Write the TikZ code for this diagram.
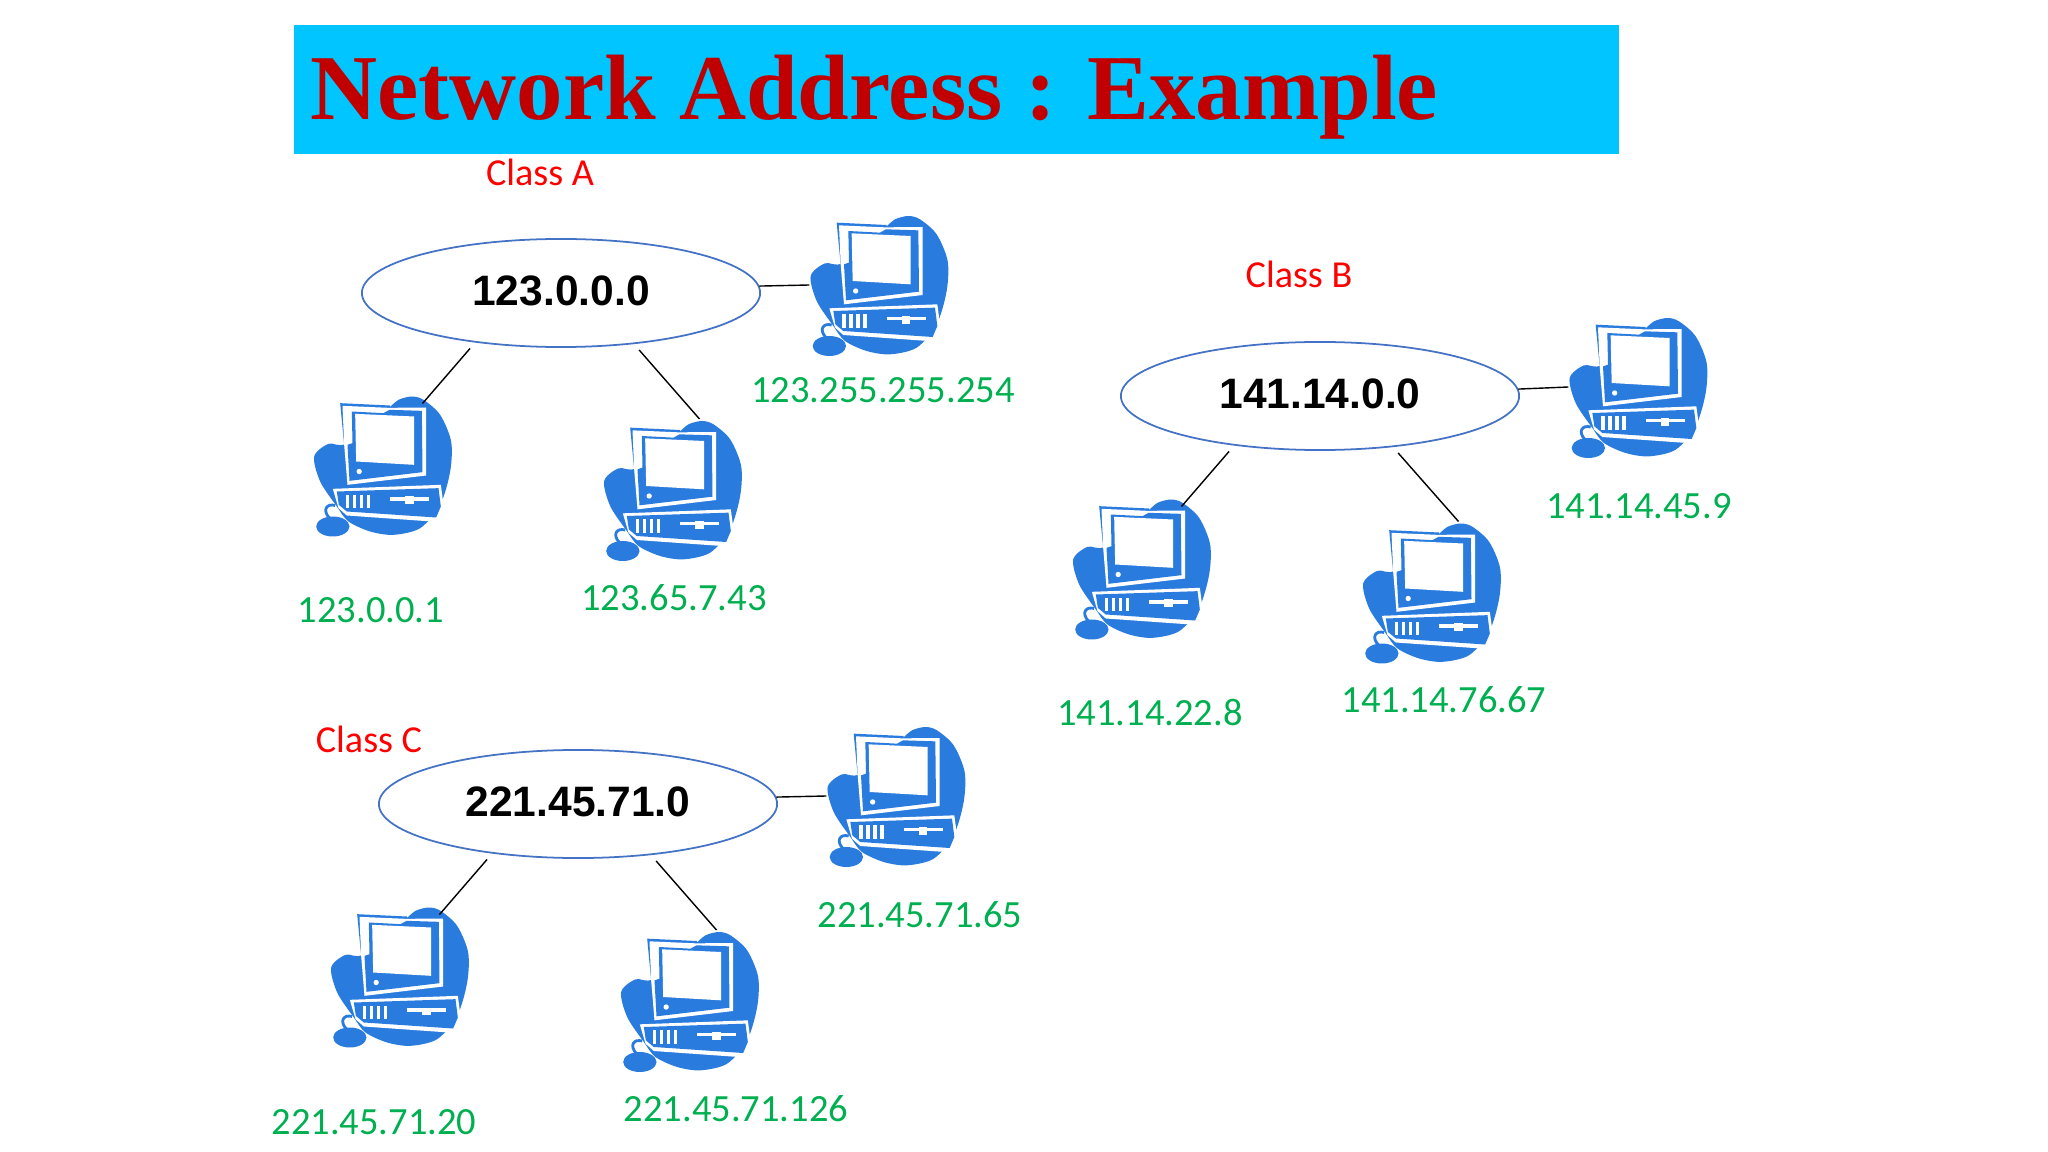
\documentclass[tikz,border=0pt]{standalone}
\usepackage{fontspec}
\usepackage{xcolor}
\usetikzlibrary{shapes.geometric}
\setmainfont{Carlito}
\newfontfamily\titlefont{Liberation Serif}
\newfontfamily\netfont{Liberation Sans}
\definecolor{barcyan}{HTML}{00C5FF}
\definecolor{titlered}{HTML}{C00000}
\definecolor{hostblue}{HTML}{2A7BDE}
\definecolor{netblue}{HTML}{4472C4}
\definecolor{addrgreen}{HTML}{00B050}
\tikzset{
	net/.style = {draw = netblue, line width = 0.5pt, ellipse, minimum width = 3.98cm, minimum height = 1.08cm, inner sep = 0pt, font = \netfont\bfseries\fontsize{12.1}{14}\selectfont},
	classlabel/.style = {red, font = \fontsize{10.85}{13}\selectfont},
	addr/.style = {addrgreen, font = \fontsize{10.95}{13}\selectfont},
	link/.style = {line width = 0.4pt},
	linkgap/.style = {line width = 0.4pt, shorten < = 2.2pt},
	computer/.pic = {
		% 底色
		\fill [hostblue] plot [smooth cycle] coordinates {(190,185) (135,187) (92,225) (110,300) (160,375) (195,420) (260,450) (330,460) (410,440) (470,370) (500,270) (503,180) (470,100) (420,55) (385,45) (345,55) (315,80)};
		% 显示器
		\fill [hostblue] (170,65) -- (320,72) -- (320,90) -- (200,200) -- (182,190) -- cycle;
		\fill [white] (177,73) -- (315,79) -- (428,78) -- (428,282) -- (192,310) -- (182,190) -- cycle;
		\fill [hostblue] (205,90) -- (300,95) -- (318,85) -- (415,88) -- (417,272) -- (198,298) -- (192,190) -- (207,185) -- cycle;
		\fill [white] (215,97) -- (392,105) -- (392,250) -- (218,240) -- cycle;
		\fill [white] (227,270) circle [radius = 8];
		% 主机
		\fill [white] (148,322) -- (472,310) -- (480,370) -- (460,412) -- (445,420) -- (190,402) -- (165,380) -- cycle;
		\fill [hostblue] (160,330) -- (465,320) -- (472,375) -- (458,408) -- (190,390) -- (166,370) -- cycle;
		\foreach \x in {187, 208, 229, 250}
			\fill [white] (\x,340) rectangle ++(10,40);
		\fill [white] (320,347) rectangle (437,358);
		\fill [white] (365,345) rectangle (390,368);
		% 鼠标
		\fill [hostblue] (148,435) ellipse [x radius = 50, y radius = 30];
		\draw [hostblue, line width = 0.8pt] (138,410) .. controls (115,385) and (130,365) .. (155,372);
		% 连接点
		\coordinate (-side) at (88,252);
		\coordinate (-topa) at (417,66);
		\coordinate (-topb) at (378,39);
	}
}

\begin{document}
\begin{tikzpicture}[x = 0.01cm, y = -0.01cm]
	\useasboundingbox (0,0) rectangle (2048,1152);
	% 标题
	\fill [barcyan] (294,25) rectangle (1619,154);
	\node (title) [anchor = west, titlered, font = \titlefont\bfseries\fontsize{26.4}{30}\selectfont] at (298,97) {Network Address : Example};
	% Class A
	\node (classA) [classlabel] at (540,172) {Class A};
	\node (netA) [net] at (561,293) {\raisebox{1.3pt}{123.0.0.0}};
	\pic [scale = 1/3] (hostAr) at (780,201) {computer};
	\pic [scale = 1/3] (hostAl) at (283.5,381.5) {computer};
	\pic [scale = 1/3] (hostAm) at (573.5,406) {computer};
	\draw [link] (netA.2.5) -- (hostAr-side);
	\draw [linkgap] (netA.210) -- (hostAl-topa);
	\draw [linkgap] (netA.-35.5) -- (hostAm-topb);
	\node (addrAr) [addr] at (883,390) {123.255.255.254};
	\node (addrAl) [addr] at (371,610) {123.0.0.1};
	\node (addrAm) [addr] at (674,598) {123.65.7.43};
	% Class B
	\node (classB) [classlabel] at (1299,274) {Class B};
	\node (netB) [net] at (1320,396) {\raisebox{1.3pt}{141.14.0.0}};
	\pic [scale = 1/3] (hostBr) at (1539,303) {computer};
	\pic [scale = 1/3] (hostBl) at (1042.5,484.5) {computer};
	\pic [scale = 1/3] (hostBm) at (1332.5,508.5) {computer};
	\draw [link] (netB.2.5) -- (hostBr-side);
	\draw [linkgap] (netB.210) -- (hostBl-topa);
	\draw [linkgap] (netB.-35.5) -- (hostBm-topb);
	\node (addrBr) [addr] at (1639,506) {141.14.45.9};
	\node (addrBl) [addr] at (1150,712) {141.14.22.8};
	\node (addrBm) [addr] at (1444,700) {141.14.76.67};
	% Class C
	\node (classC) [classlabel] at (369,739) {Class C};
	\node (netC) [net] at (578,804) {\raisebox{1.3pt}{221.45.71.0}};
	\pic [scale = 1/3] (hostCr) at (797,712) {computer};
	\pic [scale = 1/3] (hostCl) at (300.5,892.5) {computer};
	\pic [scale = 1/3] (hostCm) at (590.5,917) {computer};
	\draw [link] (netC.2.5) -- (hostCr-side);
	\draw [linkgap] (netC.210) -- (hostCl-topa);
	\draw [linkgap] (netC.-35.5) -- (hostCm-topb);
	\node (addrCr) [addr] at (920,915) {221.45.71.65};
	\node (addrCl) [addr] at (374,1122) {221.45.71.20};
	\node (addrCm) [addr] at (736,1109) {221.45.71.126};
\end{tikzpicture}
\end{document}
